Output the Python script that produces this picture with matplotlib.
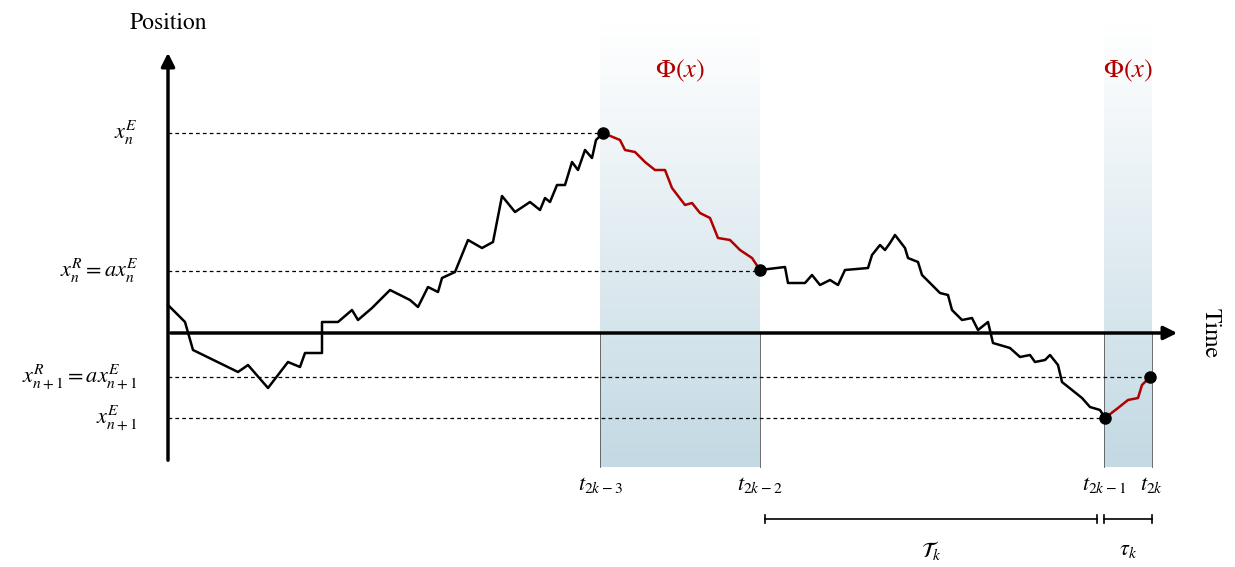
import numpy as np
import matplotlib
matplotlib.use("Agg")
import matplotlib.pyplot as plt
from matplotlib.colors import LinearSegmentedColormap

plt.rcParams['mathtext.fontset'] = 'stix'
plt.rcParams['font.family'] = ['STIXGeneral', 'DejaVu Serif']

# path in (time, position) units; origin at axes crossing
path1_t = [0,17,25,70,80,100,120,132,137,154,154,170,184,190,204,222,242,250,260,270,274,287,300,314,325,334,347,362,372,377,382,389,397,404,410,417,424,428,435]
path1_x = [28,11,-17,-39,-32,-55,-29,-34,-20,-20,11,11,23,13,25,43,33,26,46,41,55,61,93,85,91,137,121,131,123,135,131,148,148,171,163,183,175,193,200]
red1_t = [435,452,457,467,477,487,497,504,517,524,532,542,550,562,572,584,592]
red1_x = [200,193,183,181,171,163,163,145,128,130,120,115,95,93,83,75,63]
path2_t = [592,617,620,637,644,652,662,670,677,700,704,712,717,722,727,737,740,750,754,762,772,780,784,794,804,810,820,825,842,852,862,867,877,882,890,894,904,914,922,932,937]
path2_x = [63,66,50,50,58,48,53,48,63,65,78,88,83,90,98,85,75,71,58,50,40,38,23,13,15,3,11,-10,-15,-24,-22,-29,-27,-22,-32,-49,-57,-65,-74,-77,-85]
red2_t = [937,950,960,970,974,982]
red2_x = [-85,-75,-67,-65,-52,-44]
x_levels = [200, 62, -44, -85]
level_ends = [435, 592, 982, 937]
level_labels = [r'$x_n^E$', r'$x_n^R = a x_n^E$', r'$x_{n+1}^R = a x_{n+1}^E$', r'$x_{n+1}^E$']
bands = [(432, 592), (936, 984)]
tick_t = [432, 592, 936, 984]
tick_labels = [r'$t_{2k-3}$', r'$t_{2k-2}$', r'$t_{2k-1}$', r'$t_{2k}$']

fig = plt.figure(figsize=(12.35, 5.67), dpi=100)
ax = fig.add_axes([0, 0, 1, 1])
ax.set_xlim(-168, 1235 - 168)
ax.set_ylim(333 - 567, 333)
ax.axis('off')

cmap = LinearSegmentedColormap.from_list('g', ['#c3d9e3', '#ffffff'])
grad = np.linspace(0, 1, 256).reshape(-1, 1)
for a, b in bands:
    ax.imshow(grad, extent=[a, b, -134, 308], origin='lower', cmap=cmap, aspect='auto', zorder=0)
    ax.plot([a, a], [-134, 0], color='#555555', lw=0.6, zorder=1)
    ax.plot([b, b], [-134, 0], color='#555555', lw=0.6, zorder=1)
    ax.text((a + b) / 2, 262, r'$\Phi(x)$', color='#b00000', fontsize=19, ha='center', va='center')

for lv, e, lab in zip(x_levels, level_ends, level_labels):
    ax.plot([0, e], [lv, lv], 'k--', lw=0.9, dashes=(3, 2.5), zorder=1)
    ax.text(-30, lv, lab, fontsize=16, ha='right', va='center')

ax.annotate('', xy=(1012, 0), xytext=(0, 0), arrowprops=dict(arrowstyle='-|>', lw=2.5, color='k', mutation_scale=20))
ax.annotate('', xy=(0, 283), xytext=(0, -130), arrowprops=dict(arrowstyle='-|>', lw=2.5, color='k', mutation_scale=20))
ax.text(0, 310, 'Position', fontsize=17, ha='center', va='center')
ax.text(1042, 0, 'Time', fontsize=17, ha='center', va='center', rotation=-90)

ax.plot(path1_t, path1_x, 'k', lw=1.8, zorder=3)
ax.plot(path2_t, path2_x, 'k', lw=1.8, zorder=3)
ax.plot(red1_t, red1_x, color='#b00000', lw=1.8, zorder=3)
ax.plot(red2_t, red2_x, color='#b00000', lw=1.8, zorder=3)
ax.plot([red1_t[0], red1_t[-1], red2_t[0], red2_t[-1]], [red1_x[0], red1_x[-1], red2_x[0], red2_x[-1]],
        'ko', ms=8, zorder=4)

for t, lab in zip(tick_t, tick_labels):
    ax.text(t, -152, lab, fontsize=16, ha='center', va='center')

for a, b, lab in [(597, 929, r'$\mathcal{T}_k$'), (936, 984, r'$\tau_k$')]:
    ax.plot([a, b], [-186, -186], 'k', lw=1.2)
    ax.plot([a, a], [-182, -190], 'k', lw=1.2)
    ax.plot([b, b], [-182, -190], 'k', lw=1.2)
    ax.text((a + b) / 2, -217, lab, fontsize=16, ha='center', va='center')

fig.savefig('out.png', dpi=100)
